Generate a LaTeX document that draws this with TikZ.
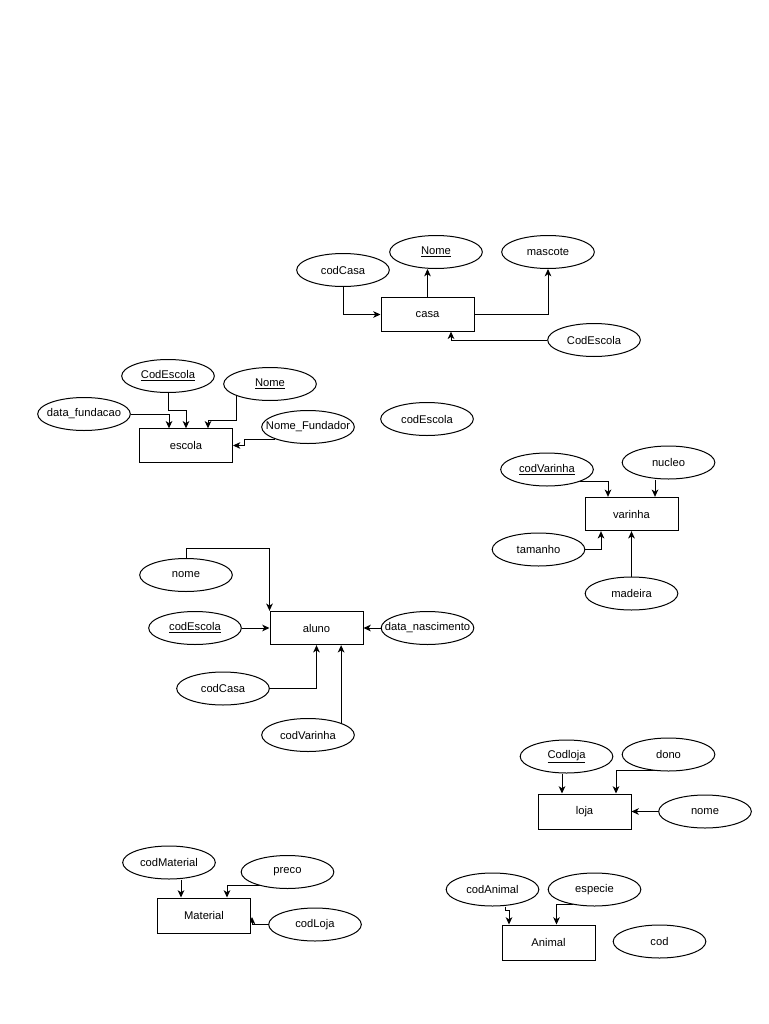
\documentclass[tikz,border=0pt]{standalone}
\usepackage{fontspec}
\setmainfont{Liberation Sans}
\usetikzlibrary{arrows.meta,calc,backgrounds,shapes.geometric}
\newcommand{\zw}[1]{\makebox[0pt]{#1}}
\begin{document}
\begin{tikzpicture}[x=0.75pt,y=-0.75pt,
  every node/.style={font=\fontsize{8.4}{10}\selectfont},
  ent/.style={draw,fill=white,line width=0.75pt,minimum width=69.75pt,minimum height=25pt,inner sep=0pt},
  att/.style={draw,fill=white,ellipse,line width=0.75pt,minimum width=69.5pt,minimum height=24.75pt,inner sep=0pt},
  arr/.style={line width=0.75pt,-{Stealth[length=5.5pt,width=5pt,inset=1.6pt]}}]
\useasboundingbox (0,0) rectangle (768,1024);
% casa
\node[ent] (casa) at (427.5,314.5) {casa};
\node[att] (nomeC) at (436,252) {\underline{Nome}};
\node[att] (mascote) at (548,252) {mascote};
\node[att] (codCasa) at (343,270) {codCasa};
\node[att] (codEscC) at (594,340) {CodEscola};
% escola
\node[ent] (escola) at (186,445.5) {escola};
\node[att] (codEscE) at (168,376) {\underline{CodEscola}};
\node[att] (nomeE) at (270,384) {\underline{Nome}};
\node[att] (dataF) at (84,414) {\zw{data\_fundacao}};
\node[att] (nomeF) at (308,427) {\zw{Nome\_Fundador}};
\node[att] (codEscola) at (427,419) {codEscola};
% aluno
\node[ent] (aluno) at (316.5,628) {aluno};
\node[att] (nomeA) at (186,575) {nome};
\node[att] (codEscA) at (195,628) {\underline{codEscola}};
\node[att] (dataN) at (427.5,628) {\zw{data\_nascimento}};
\node[att] (codCasaA) at (223,688.5) {codCasa};
\node[att] (codVarA) at (308,735) {codVarinha};
% varinha
\node[ent] (varinha) at (631.5,514) {varinha};
\node[att] (codVarV) at (547,469.5) {\underline{codVarinha}};
\node[att] (nucleo) at (668.5,462.5) {nucleo};
\node[att] (tamanho) at (538.5,549.5) {tamanho};
\node[att] (madeira) at (631.5,593.5) {madeira};
% loja
\node[ent,minimum height=26.25pt] (loja) at (584.5,811.5) {loja};
\node[att] (codLoja) at (566.5,756.5) {\underline{Codloja}};
\node[att] (dono) at (668.5,754.5) {dono};
\node[att] (nomeL) at (705,811.5) {nome};
% Animal
\node[ent,minimum height=26.25pt] (Animal) at (548.5,942.5) {Animal};
\node[att] (codAnimal) at (492.5,889.5) {codAnimal};
\node[att] (especie) at (594.5,889.5) {especie};
\node[att] (cod) at (659.5,941.5) {cod};
% Material
\node[ent,minimum height=26.25pt] (Material) at (204,915.5) {Material};
\node[att] (codMaterial) at (169,862.5) {codMaterial};
\node[att] (preco) at (287.5,872) {preco};
\node[att] (codLojaM) at (315,924.5) {codLoja};
\begin{pgfonlayer}{background}
\fill[white] (0,0) rectangle (768,1024);
% casa
\draw[arr] (codCasa.south) |- (casa.west);
\draw[arr] (casa.north) -- (casa.north |- nomeC.south);
\draw[arr] (casa.east) -| (mascote.south);
\draw[arr] (codEscC.west) -| ($(casa.south)+(23.5,0)$);
% escola
\draw[arr] (dataF.east) -| ($(escola.north)+(-17,0)$);
\draw[arr] (codEscE.south) -- ++(0,17) -| (escola.north);
\draw[arr] (nomeE.south west) -- ++(0,24) -| ($(escola.north)+(22,0)$);
\draw[arr] (nomeF.south west) -| ($(escola.east)+(11,0)$) -- (escola.east);
% aluno
\draw[arr] (nomeA.north) -- ++(0,-10) -| (aluno.north west);
\draw[arr] (codEscA.east) -- (aluno.west);
\draw[arr] (dataN.west) -- (aluno.east);
\draw[arr] (codCasaA.east) -| (aluno.south);
\draw[arr] (codVarA.north east) -- (codVarA.north east |- aluno.south);
% varinha
\draw[arr] (codVarV.south east) -| ($(varinha.north)+(-23.5,0)$);
\draw[arr] ($(nucleo.south)+(-13.5,0)$) -- ($(varinha.north)+(23.5,0)$);
\draw[arr] (tamanho.east) -| ($(varinha.south)+(-30.5,0)$);
\draw[arr] (madeira.north) -- (varinha.south);
% loja
\draw[arr] ($(codLoja.south)+(-4.5,0)$) -- ($(loja.north)+(-22.5,0)$);
\draw[arr] (dono.235) -| ($(loja.north)+(31.5,0)$);
\draw[arr] (nomeL.west) -- (loja.east);
% Animal
\draw[arr] ($(codAnimal.south)+(13,0)$) -- ++(0,3.5) -| ($(Animal.north)+(-39.5,0)$);
\draw[arr] (especie.215) -| ($(Animal.north)+(8,0)$);
% Material
\draw[arr] ($(codMaterial.south)+(12,0)$) -- ($(Material.north)+(-23,0)$);
\draw[arr] (preco.206) -| ($(Material.north)+(23,0)$);
\draw[arr] (codLojaM.west) -| ($(Material.east)+(1,1.5)$);
\end{pgfonlayer}
\end{tikzpicture}
\end{document}
